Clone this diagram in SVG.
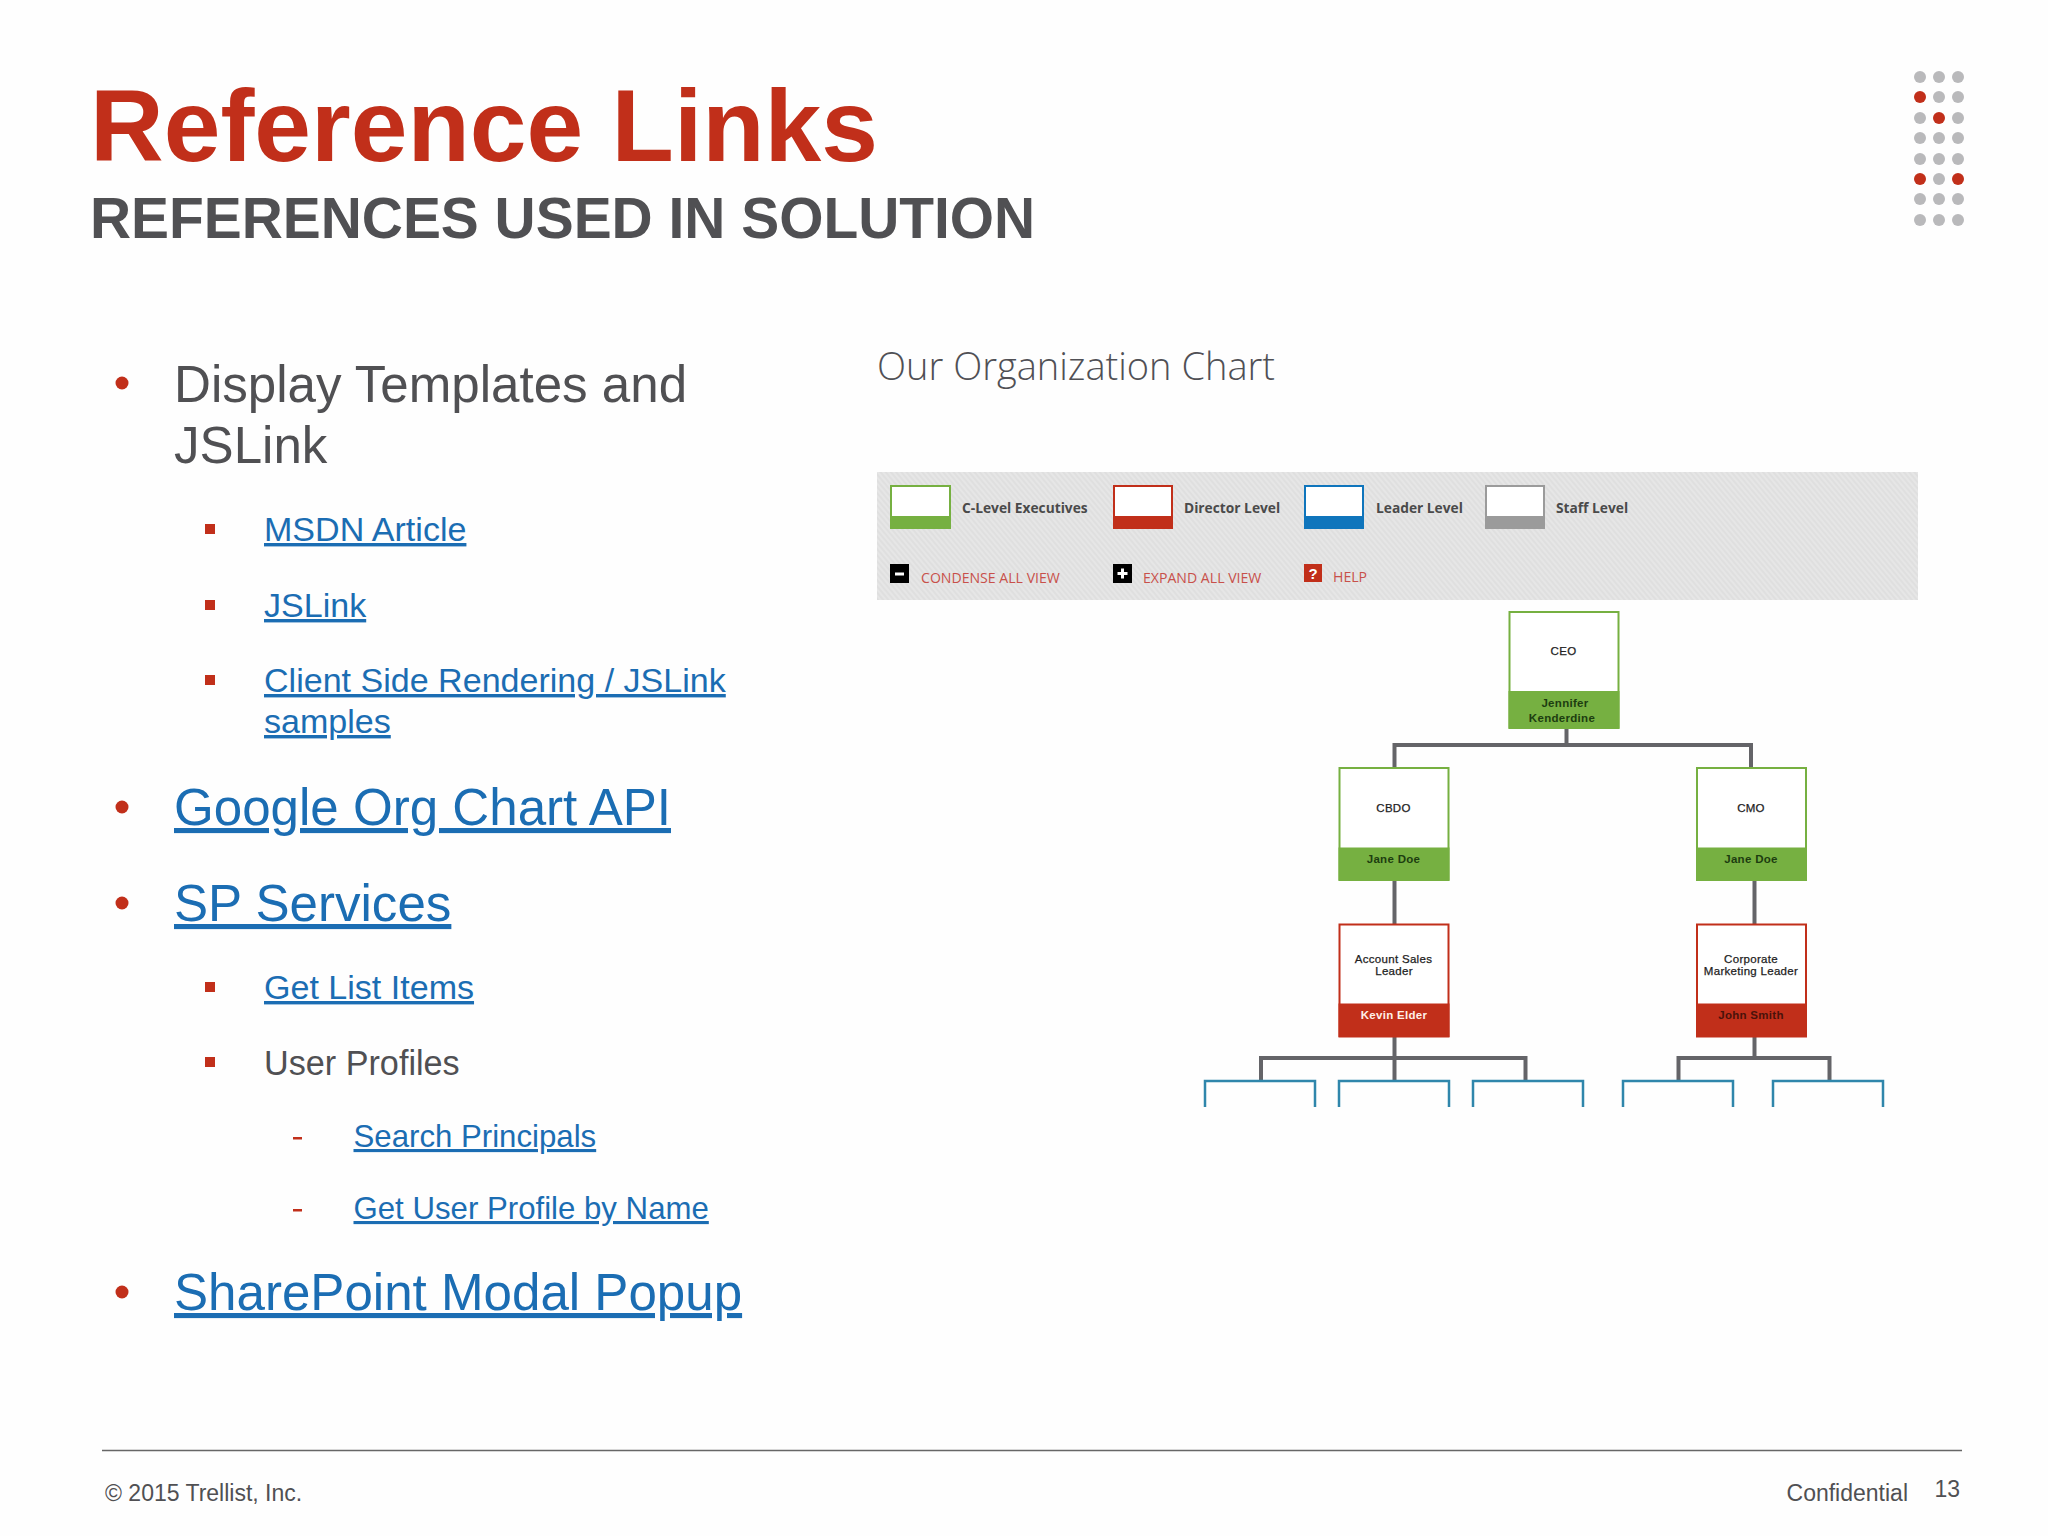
<svg xmlns="http://www.w3.org/2000/svg" width="2048" height="1536" viewBox="0 0 2048 1536">
<style>
text{font-family:"Liberation Sans",Arial,sans-serif}
.t{font-size:102px;font-weight:700;fill:#c12f1a}
.s{font-size:56.9px;font-weight:700;fill:#505053}
.b1{font-size:51.100px;fill:#505053}
.b2{font-size:34.200px;fill:#505053}
.l1{font-size:51.100px;fill:#1b6db3;text-decoration:underline}
.l2{font-size:34.050px;fill:#1b6db3;text-decoration:underline}
.l3{font-size:31.200px;fill:#1b6db3;text-decoration:underline}
.bul{fill:#c12f1a}
.f{font-size:23px;fill:#505053}
.dg{fill:#b9b9bb}.dr{fill:#c12f1a}
.h{font-family:"Open Sans",sans-serif;font-size:38px;font-weight:300;fill:#505055}
.lg{font-family:"Open Sans",sans-serif;font-size:13.750px;font-weight:700;fill:#4a4a4a}
.ac{font-family:"Open Sans",sans-serif;font-size:14.100px;fill:#c8504a}
.n{font-size:11.500px;fill:#222;stroke:#222;stroke-width:.25;text-anchor:middle;letter-spacing:.3px}
.nb{font-size:11.500px;font-weight:700;fill:#1d3d10;text-anchor:middle;letter-spacing:.3px}
.c{stroke:#646468;stroke-width:4;fill:none}
.stub{stroke:#2f86ab;stroke-width:2.500;fill:none}
</style>
<defs>
<pattern id="tex" width="4" height="4" patternUnits="userSpaceOnUse" patternTransform="rotate(50)">
<rect width="4" height="4" fill="#e6e6e6"/><path d="M0 1H4" stroke="#d8d8d8" stroke-width="1"/>
</pattern>
</defs>
<rect width="2048" height="1536" fill="#fefefe"/>
<text class="t" x="90" y="161">Reference Links</text>
<text class="s" x="90" y="238">REFERENCES USED IN SOLUTION</text>
<g id="dots">
<circle class="dg" cx="1920" cy="77" r="6"/><circle class="dg" cx="1939" cy="77" r="6"/><circle class="dg" cx="1958" cy="77" r="6"/>
<circle class="dr" cx="1920" cy="97" r="6"/><circle class="dg" cx="1939" cy="97" r="6"/><circle class="dg" cx="1958" cy="97" r="6"/>
<circle class="dg" cx="1920" cy="118" r="6"/><circle class="dr" cx="1939" cy="118" r="6"/><circle class="dg" cx="1958" cy="118" r="6"/>
<circle class="dg" cx="1920" cy="138" r="6"/><circle class="dg" cx="1939" cy="138" r="6"/><circle class="dg" cx="1958" cy="138" r="6"/>
<circle class="dg" cx="1920" cy="159" r="6"/><circle class="dg" cx="1939" cy="159" r="6"/><circle class="dg" cx="1958" cy="159" r="6"/>
<circle class="dr" cx="1920" cy="179" r="6"/><circle class="dg" cx="1939" cy="179" r="6"/><circle class="dr" cx="1958" cy="179" r="6"/>
<circle class="dg" cx="1920" cy="199" r="6"/><circle class="dg" cx="1939" cy="199" r="6"/><circle class="dg" cx="1958" cy="199" r="6"/>
<circle class="dg" cx="1920" cy="220" r="6"/><circle class="dg" cx="1939" cy="220" r="6"/><circle class="dg" cx="1958" cy="220" r="6"/>
</g>
<g id="list">
<circle class="bul" cx="122" cy="383" r="6.500"/>
<text class="b1" x="174" y="402">Display Templates and</text>
<text class="b1" x="174" y="463">JSLink</text>
<rect class="bul" x="205" y="524" width="10" height="10"/>
<text class="l2" x="264" y="541">MSDN Article</text>
<rect class="bul" x="205" y="600" width="10" height="10"/>
<text class="l2" x="264" y="617">JSLink</text>
<rect class="bul" x="205" y="675" width="10" height="10"/>
<text class="l2" x="264" y="692">Client Side Rendering / JSLink</text>
<text class="l2" x="264" y="733">samples</text>
<circle class="bul" cx="122" cy="807" r="6.500"/>
<text class="l1" x="174" y="825">Google Org Chart API</text>
<circle class="bul" cx="122" cy="903" r="6.500"/>
<text class="l1" x="174" y="921">SP Services</text>
<rect class="bul" x="205" y="982" width="10" height="10"/>
<text class="l2" x="264" y="999">Get List Items</text>
<rect class="bul" x="205" y="1057" width="10" height="10"/>
<text class="b2" x="264" y="1075">User Profiles</text>
<rect class="bul" x="293" y="1137" width="9" height="2.500"/>
<text class="l3" x="353.500" y="1147">Search Principals</text>
<rect class="bul" x="293" y="1209" width="9" height="2.500"/>
<text class="l3" x="353.500" y="1219">Get User Profile by Name</text>
<circle class="bul" cx="122" cy="1292" r="6.500"/>
<text class="l1" x="174" y="1310">SharePoint Modal Popup</text>
</g>
<text class="h" x="877" y="380">Our Organization Chart</text>
<g id="legend">
<rect x="877" y="472" width="1041" height="128" fill="url(#tex)"/>
<g id="key-clevel"><rect x="891" y="486" width="59" height="42" fill="#fff" stroke="#76b041" stroke-width="2"/><rect x="890" y="516" width="60" height="13" fill="#76b041"/><text class="lg" x="962" y="513">C-Level Executives</text></g>
<g id="key-director"><rect x="1114" y="486" width="58" height="42" fill="#fff" stroke="#c12f1a" stroke-width="2"/><rect x="1113" y="516" width="60" height="13" fill="#c12f1a"/><text class="lg" x="1184" y="513">Director Level</text></g>
<g id="key-leader"><rect x="1305" y="486" width="58" height="42" fill="#fff" stroke="#0f75bc" stroke-width="2"/><rect x="1304" y="516" width="60" height="13" fill="#0f75bc"/><text class="lg" x="1376" y="513">Leader Level</text></g>
<g id="key-staff"><rect x="1486" y="486" width="58" height="42" fill="#fff" stroke="#9b9b9b" stroke-width="2"/><rect x="1485" y="516" width="60" height="13" fill="#9b9b9b"/><text class="lg" x="1556" y="513">Staff Level</text></g>
<g id="condense"><rect x="890" y="564" width="19" height="19" fill="#000"/><rect x="895" y="572.500" width="9" height="3" fill="#fff"/><text class="ac" x="921" y="583">CONDENSE ALL VIEW</text></g>
<g id="expand"><rect x="1113" y="564" width="19" height="19" fill="#000"/><path d="M1122.500 568.500v10M1117.500 573.500h10" stroke="#fff" stroke-width="3"/><text class="ac" x="1143" y="583">EXPAND ALL VIEW</text></g>
<g id="help"><rect x="1304" y="564" width="18" height="18" fill="#c12f1a"/><text x="1313" y="579" font-size="15" font-weight="700" fill="#fff" text-anchor="middle">?</text><text class="ac" x="1333" y="582">HELP</text></g>
</g>
<g id="connectors">
<path class="c" d="M1566.500 728V745M1394.500 767V745H1751V767"/>
<path class="c" d="M1394.500 880V924"/>
<path class="c" d="M1754.500 880V924"/>
<path class="c" d="M1394.500 1037V1080M1261 1080V1058H1525.500V1080"/>
<path class="c" d="M1754.500 1037V1058M1678.500 1080V1058H1829.500V1080"/>
</g>
<g id="ceo"><rect x="1509.500" y="612" width="109" height="116" fill="#fff" stroke="#76b041" stroke-width="2"/><rect x="1508.500" y="691" width="111" height="37.500" fill="#76b041"/><text class="n" x="1563.500" y="655">CEO</text><text class="nb" x="1565" y="707">Jennifer</text><text class="nb" x="1562" y="722">Kenderdine</text></g>
<g id="cbdo"><rect x="1339.500" y="768" width="109" height="112" fill="#fff" stroke="#76b041" stroke-width="2"/><rect x="1338.500" y="847.500" width="111" height="33" fill="#76b041"/><text class="n" x="1393.500" y="812">CBDO</text><text class="nb" x="1393.500" y="863">Jane Doe</text></g>
<g id="cmo"><rect x="1697" y="768" width="109" height="112" fill="#fff" stroke="#76b041" stroke-width="2"/><rect x="1696" y="847.500" width="111" height="33" fill="#76b041"/><text class="n" x="1751" y="812">CMO</text><text class="nb" x="1751" y="863">Jane Doe</text></g>
<g id="account-sales"><rect x="1339.500" y="924.500" width="109" height="112" fill="#fff" stroke="#c12f1a" stroke-width="2"/><rect x="1338.500" y="1003.500" width="111" height="33.500" fill="#c12f1a"/><text class="n" x="1393.500" y="962.500">Account Sales</text><text class="n" x="1394" y="975">Leader</text><text class="nb" x="1394" y="1019" style="fill:#fff0e8">Kevin Elder</text></g>
<g id="corporate-marketing"><rect x="1697" y="924.500" width="109" height="112" fill="#fff" stroke="#c12f1a" stroke-width="2"/><rect x="1696" y="1003.500" width="111" height="33.500" fill="#c12f1a"/><text class="n" x="1751" y="962.500">Corporate</text><text class="n" x="1751" y="975">Marketing Leader</text><text class="nb" x="1751" y="1019" style="fill:#4a120a">John Smith</text></g>
<g id="staff-stubs">
<path class="stub" d="M1205 1107V1081H1315V1107"/>
<path class="stub" d="M1339 1107V1081H1449V1107"/>
<path class="stub" d="M1473 1107V1081H1583V1107"/>
<path class="stub" d="M1623 1107V1081H1733V1107"/>
<path class="stub" d="M1773 1107V1081H1883V1107"/>
</g>
<g id="footer">
<line x1="102" y1="1450.500" x2="1962" y2="1450.500" stroke="#666" stroke-width="1.500"/>
<text class="f" x="105" y="1501">© 2015 Trellist, Inc.</text>
<text class="f" x="1908" y="1501" text-anchor="end">Confidential</text>
<text class="f" x="1934.500" y="1497">13</text>
</g>
</svg>
